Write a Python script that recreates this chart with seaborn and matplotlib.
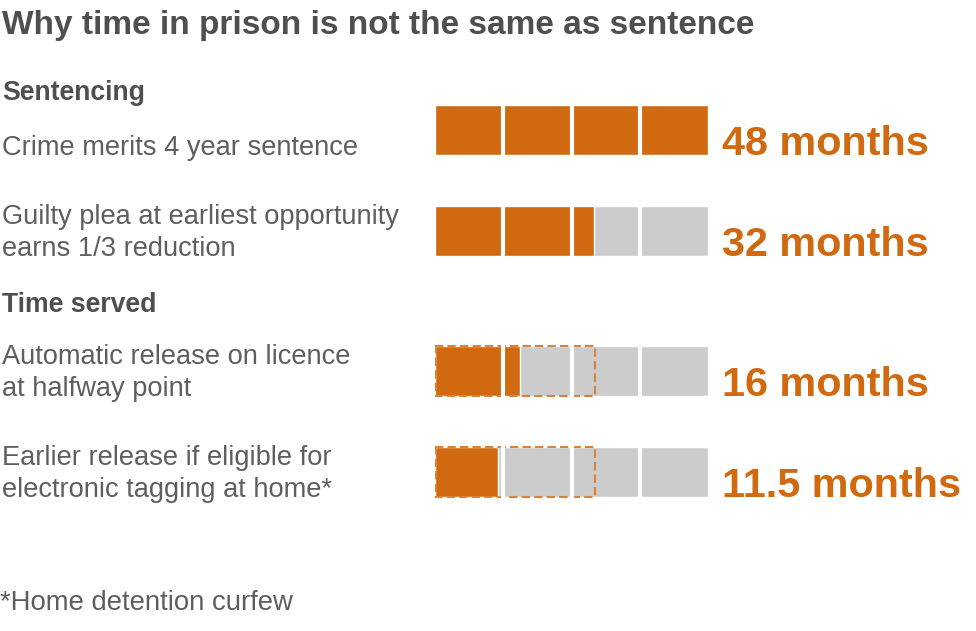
import pandas as pd
import seaborn as sns
import matplotlib.pyplot as plt
from matplotlib.transforms import blended_transform_factory

# Data
title = 'Why time in prison is not the same as sentence'
sentencing_labels = ['Crime merits 4 year sentence',
                     'Guilty plea at earliest opportunity\nearns 1/3 reduction']
sentencing_text = ['48 months', '32 months']
sentencing_bars = [48, 28]      # drawn bar lengths, in months
served_labels = ['Automatic release on licence\nat halfway point',
                 'Earlier release if eligible for\nelectronic tagging at home*']
served_text = ['16 months', '11.5 months']
served_bars = [14.9, 11]
full_sentence = 48   # grey background length
outline_len = 28.2   # dashed outline in the "time served" rows
block = 12           # one block per year
footnote = '*Home detention curfew'

# Styles
orange = '#d0690f'
grey = '#cccccc'
text_dark = '#4f4f4f'
text_mid = '#5e5e5e'

sns.set_style('white')
plt.rcParams['font.family'] = ['Liberation Sans', 'DejaVu Sans']

fig = plt.figure(figsize=(9.76, 6.31), dpi=100)
W, H = 976, 631
ax1 = fig.add_axes([435 / W, 1 - 281.5 / H, 273 / W, 202 / H])
ax2 = fig.add_axes([435 / W, 1 - 522.5 / H, 273 / W, 202 / H])


def draw_panel(ax, labels, bars, texts, outline=None):
    df = pd.DataFrame({'label': labels, 'months': bars,
                       'full': [full_sentence] * len(labels)})
    sns.barplot(data=df, x='full', y='label', color=grey, saturation=1,
                width=0.5, errorbar=None, ax=ax)
    sns.barplot(data=df, x='months', y='label', color=orange, saturation=1,
                width=0.5, errorbar=None, ax=ax)
    # white gaps between the yearly blocks
    for x in range(block, full_sentence, block):
        ax.axvline(x, color='white', lw=3)
    if outline is not None:
        df['outline'] = [outline] * len(labels)
        sns.barplot(data=df, x='outline', y='label', color='#d9823a', saturation=1,
                    fill=False, width=0.5, errorbar=None, linewidth=1.5,
                    linestyle=(0, (4, 2)), ax=ax)
    ax.set_xlim(0, full_sentence)
    ax.set_ylim(len(labels) - 0.5, -0.5)
    ax.set(xlabel='', ylabel='', xticks=[], yticks=[])
    sns.despine(ax=ax, left=True, bottom=True)

    trans = blended_transform_factory(fig.transFigure, ax.transData)
    for i, (lab, txt) in enumerate(zip(labels, texts)):
        ax.text(2 / W, i + 0.25, lab, transform=trans, ha='left', va='baseline',
                fontsize=19.6, color=text_mid, linespacing=1.32)
        ax.annotate(txt, xy=(full_sentence, i + 0.25), xytext=(10, 0),
                    textcoords='offset points', ha='left', va='baseline',
                    fontsize=29.8, fontweight='bold', color=orange,
                    annotation_clip=False)


draw_panel(ax1, sentencing_labels, sentencing_bars, sentencing_text)
draw_panel(ax2, served_labels, served_bars, served_text, outline=outline_len)

fig.text(2 / W, 1 - 34 / H, title, fontsize=24, fontweight='bold',
         color=text_dark, va='baseline')
fig.text(2 / W, 1 - 100 / H, 'Sentencing', fontsize=19.2, fontweight='bold',
         color=text_dark, va='baseline')
fig.text(2 / W, 1 - 312 / H, 'Time served', fontsize=19.2, fontweight='bold',
         color=text_dark, va='baseline')
fig.text(0, 1 - 610 / H, footnote, fontsize=19.8, color=text_mid, va='baseline')

plt.savefig('out.png', dpi=100)
